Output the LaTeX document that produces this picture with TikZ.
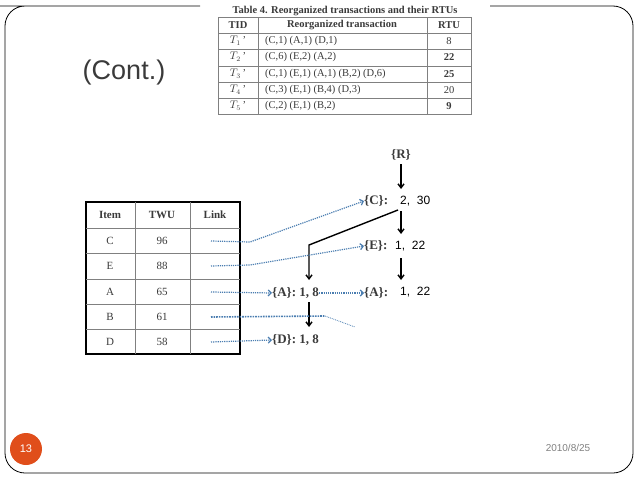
\documentclass[tikz,border=0pt]{standalone}
\usepackage{fontspec}
\setmainfont{Liberation Serif}
\newfontfamily\sansf{Liberation Sans}
\usetikzlibrary{arrows.meta}
\definecolor{lnk}{HTML}{4A7DB0}
\definecolor{txt}{HTML}{3A3A3A}
\begin{document}
\begin{tikzpicture}[x=1pt,y=-1pt,
  tn/.style={inner sep=0pt,font=\bfseries\fontsize{13}{13}\selectfont,text=txt,anchor=west},
  num/.style={inner sep=0pt,font=\sansf\fontsize{12}{12}\selectfont,anchor=west},
  tr/.style={-{Straight Barb[length=4pt,width=6pt]},line width=1.4pt},
  dl/.style={lnk,densely dotted,line width=1.2pt},
  da/.style={dl,-{Straight Barb[length=3pt,width=6pt]}},
  cell/.style={inner sep=0pt,font=\fontsize{11}{11}\selectfont,text=txt},
  tc/.style={inner sep=0pt,font=\fontsize{10.5}{10.5}\selectfont,text=txt}]
\useasboundingbox (0,0) rectangle (638,479);
% slide frame
\draw[line width=0.8pt,rounded corners=20pt] (200,6) -- (20,6) -- (5,6) -- (5,473) -- (633,473) -- (633,6) -- (490,6);
\node[inner sep=0pt,font=\bfseries\fontsize{10.5}{10.5}\selectfont,text=txt] (ttl) at (345,11) {Table 4. Reorganized transactions and their RTUs};
% table 4
\draw[gray,line width=0.8pt] (218,17) rectangle (471,114);
\foreach \y in {33,49,66,82,98} \draw[gray,line width=0.6pt] (218,\y) -- (471,\y);
\foreach \x in {258,427} \draw[gray,line width=0.6pt] (\x,17) -- (\x,114);
\node[tc,font=\bfseries\fontsize{10.5}{10.5}\selectfont] (h1) at (238,25) {TID};
\node[tc,font=\bfseries\fontsize{10.5}{10.5}\selectfont] (h2) at (342,25) {Reorganized transaction};
\node[tc,font=\bfseries\fontsize{10.5}{10.5}\selectfont] (h3) at (449,25) {RTU};
\foreach \i/\t/\r/\y in {1/{(C,1) (A,1) (D,1)}/8/41, 2/{(C,6) (E,2) (A,2)}/\textbf{22}/57, 3/{(C,1) (E,1) (A,1) (B,2) (D,6)}/\textbf{25}/74, 4/{(C,3) (E,1) (B,4) (D,3)}/20/90, 5/{(C,2) (E,1) (B,2)}/\textbf{9}/106}{
  \node[tc] (t\i) at (238,\y) {$T_{\i}$\,'};
  \node[tc,anchor=west] (r\i) at (265,\y) {\t};
  \node[tc] (u\i) at (449,\y) {\r};
}
\node[inner sep=0pt,font=\sansf\fontsize{27}{27}\selectfont,text=txt] (cont) at (124,73) {(Cont.)};
% header table
\draw[line width=2pt] (86,202) rectangle (240,354);
\foreach \y in {228,253,279,304,329} \draw[gray,line width=0.6pt] (86,\y) -- (240,\y);
\foreach \x in {135,190} \draw[gray,line width=0.6pt] (\x,202) -- (\x,354);
\node[cell,font=\bfseries\fontsize{11}{11}\selectfont] (hi) at (110,215) {Item};
\node[cell,font=\bfseries\fontsize{11}{11}\selectfont] (ht) at (162,215) {TWU};
\node[cell,font=\bfseries\fontsize{11}{11}\selectfont] (hl) at (215,215) {Link};
\foreach \n/\v/\y in {C/96/241,E/88/266,A/65/292,B/61/317,D/58/342}{
  \node[cell] (i\n) at (110,\y) {\n};
  \node[cell] (w\n) at (162,\y) {\v};
  \coordinate (l\n) at (211,\y);
}
% tree
\node[tn,anchor=center] (R) at (401,155) {\{R\}};
\node[tn] (C) at (364,201) {\{C\}:};
\node[num] (Cn) at (400,201) {2,\ \ 30};
\node[tn] (E) at (364,246) {\{E\}:};
\node[num] (En) at (395,246) {1,\ \ 22};
\node[tn] (A2) at (364,293) {\{A\}:};
\node[num] (A2n) at (400,292) {1,\ \ 22};
\node[tn] (A1) at (272,293) {\{A\}: 1, 8};
\node[tn] (D) at (272,340) {\{D\}: 1, 8};
\draw[tr] (401,164) -- (401,189);
\draw[tr] (401,211) -- (401,234);
\draw[tr] (401,258) -- (401,280);
\draw[tr] (398,210) -- (309,245) -- (309,280);
\draw[tr] (309,302) -- (309,327);
% links
\draw[da] (lC) -- (250,242) -- (C.west);
\draw[da] (lE) -- (250,265) -- (E.west);
\draw[da] (lA) -- (A1.west);
\draw[da] (A1.east) -- (A2.west);
\draw[dl,line width=1.6pt] (lB) -- (325,316);
\draw[dl,line width=0.8pt] (325,316) -- (355,327);
\draw[da] (lD) -- (D.west);
% footer
\node[circle,fill={rgb,255:red,224;green,78;blue,27},minimum size=32pt,inner sep=0pt,text=white,font=\sansf\fontsize{11}{11}\selectfont] (pg) at (26,449) {13};
\node[inner sep=0pt,font=\sansf\fontsize{10}{10}\selectfont,text=gray] (dt) at (568,448) {2010/8/25};
\end{tikzpicture}
\end{document}
